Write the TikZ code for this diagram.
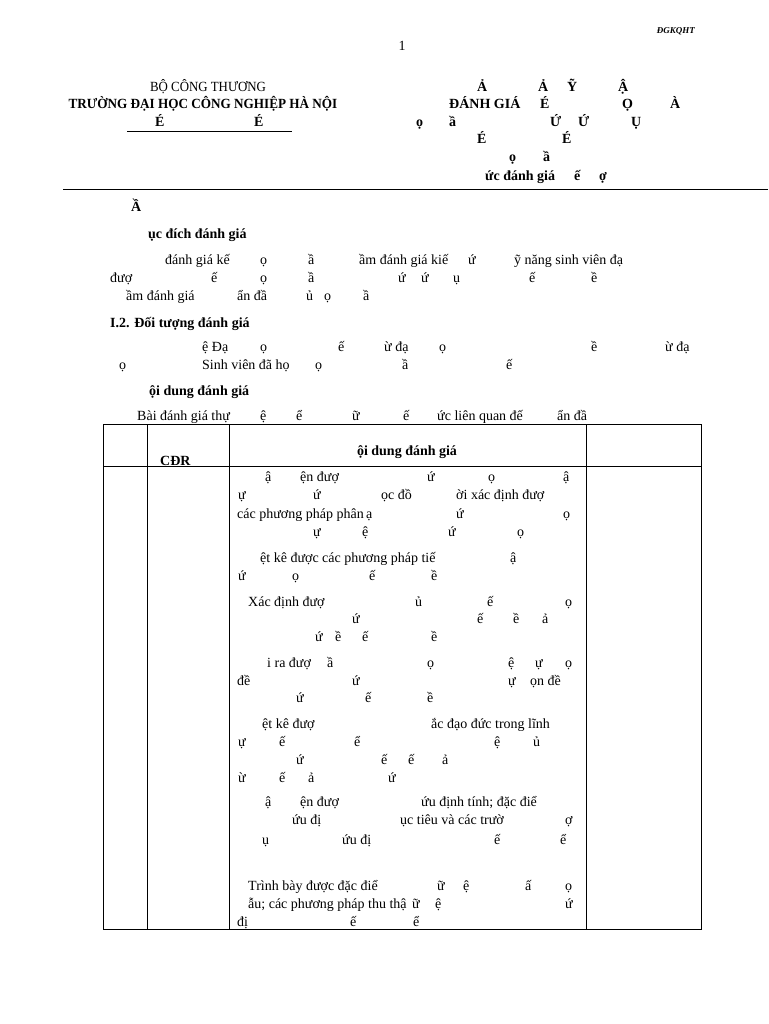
\documentclass[tikz,border=0pt]{standalone}
\usepackage{fontspec}
\setmainfont{Liberation Serif}
\newcommand\tx[3]{\node[anchor=base west,inner sep=0pt] at (#1,#2) {#3};}
\newcommand\tb[3]{\node[anchor=base west,inner sep=0pt,font=\fontsize{14}{17}\selectfont\bfseries] at (#1,#2) {#3};}
\begin{document}
\begin{tikzpicture}[x=1pt,y=-1pt,font=\fontsize{14}{17}\selectfont]
\useasboundingbox (0,0) rectangle (768,1024);
\fill[white] (0,0) rectangle (768,1024);
% page header
\node[anchor=base east,inner sep=0pt,font=\fontsize{9}{10}\selectfont\bfseries\itshape] (hd) at (695,34) {ĐGKQHT};
\node[anchor=base,inner sep=0pt] (pg) at (402,51) {1};
% left heading
\node[anchor=base,inner sep=0pt] (bo) at (208,92) {\scalebox{0.92}[1]{BỘ CÔNG THƯƠNG}};
\node[anchor=base,inner sep=0pt,font=\fontsize{14}{17}\selectfont\bfseries] (tr) at (203,109) {\scalebox{0.94}[1]{TRƯỜNG ĐẠI HỌC CÔNG NGHIỆP HÀ NỘI}};
\tb{155}{127}{É}\tb{254}{127}{É}
\coordinate (u1) at (127,131); \coordinate (u2) at (292,131);
\draw[line width=0.6pt] (u1) -- (u2);
% right heading
\tb{477}{92}{Ả}\tb{538}{92}{Ả}\tb{567}{92}{Ỹ}\tb{618}{92}{Ậ}
\tb{449}{109}{ĐÁNH GIÁ}\tb{540}{109}{É}\tb{622}{109}{Ọ}\tb{670}{109}{À}
\tb{416}{127}{ọ}\tb{449}{127}{ầ}\tb{550}{127}{Ứ}\tb{578}{127}{Ứ}\tb{631}{127}{Ụ}
\tb{477}{144}{É}\tb{562}{144}{É}
\tb{509}{162}{ọ}\tb{543}{162}{ầ}
\tb{485}{181}{ức đánh giá}\tb{574}{181}{ế}\tb{599}{181}{ợ}
\coordinate (r1) at (63,189); \coordinate (r2) at (768,189);
\draw[line width=0.8pt] (r1) -- (r2);
% section I
\tb{131}{212}{Ầ}
\tb{148}{238}{ục đích đánh giá}
\tx{165}{264}{đánh giá kế}\tx{260}{264}{ọ}\tx{308}{264}{ầ}\tx{359}{264}{ầm đánh giá kiế}\tx{468}{264}{ứ}\tx{514}{264}{ỹ năng sinh viên đạ}
\tx{110}{282}{đượ}\tx{211}{282}{ế}\tx{260}{282}{ọ}\tx{308}{282}{ầ}\tx{398}{282}{ứ}\tx{421}{282}{ứ}\tx{453}{282}{ụ}\tx{529}{282}{ế}\tx{591}{282}{ề}
\tx{126}{300}{ầm đánh giá}\tx{237}{300}{ẩn đầ}\tx{306}{300}{ủ}\tx{324}{300}{ọ}\tx{363}{300}{ầ}
\tb{110}{327}{I.2. Đối tượng đánh giá}
\tx{202}{351}{ệ Đạ}\tx{260}{351}{ọ}\tx{338}{351}{ế}\tx{384}{351}{ừ đạ}\tx{439}{351}{ọ}\tx{591}{351}{ề}\tx{665}{351}{ừ đạ}
\tx{119}{369}{ọ}\tx{202}{369}{Sinh viên đã họ}\tx{315}{369}{ọ}\tx{402}{369}{ầ}\tx{506}{369}{ế}
\tb{149}{395}{ội dung đánh giá}
\tx{137}{420}{Bài đánh giá thự}\tx{260}{420}{ệ}\tx{296}{420}{ể}\tx{352}{420}{ữ}\tx{403}{420}{ế}\tx{437}{420}{ức liên quan đế}\tx{557}{420}{ẩn đầ}
% table
\coordinate (t1) at (103,424); \coordinate (t2) at (701,929);
\draw[line width=0.8pt] (t1) rectangle (t2);
\coordinate (h1) at (103,466); \coordinate (h2) at (701,466);
\draw[line width=0.8pt] (h1) -- (h2);
\foreach \c in {147,229,586}{\draw[line width=0.8pt] (\c,424) -- (\c,929);}
\tb{160}{465}{CĐR}
\node[anchor=base,inner sep=0pt,font=\fontsize{14}{17}\selectfont\bfseries] (hc) at (407,455) {ội dung đánh giá};
% cell text
\tx{265}{481}{ậ}\tx{300}{481}{ện đượ}\tx{427}{481}{ứ}\tx{488}{481}{ọ}\tx{563}{481}{ậ}
\tx{238}{499}{ự}\tx{313}{499}{ứ}\tx{381}{499}{ọc đồ}\tx{456}{499}{ời xác định đượ}
\tx{237}{518}{các phương pháp phân}\tx{366}{518}{ạ}\tx{456}{518}{ứ}\tx{563}{518}{ọ}
\tx{313}{536}{ự}\tx{362}{536}{ệ}\tx{448}{536}{ứ}\tx{517}{536}{ọ}
\tx{260}{562}{ệt kê được các phương pháp tiế}\tx{510}{562}{ậ}
\tx{238}{580}{ứ}\tx{292}{580}{ọ}\tx{369}{580}{ế}\tx{431}{580}{ề}
\tx{248}{606}{Xác định đượ}\tx{415}{606}{ủ}\tx{487}{606}{ế}\tx{565}{606}{ọ}
\tx{352}{623}{ứ}\tx{477}{623}{ế}\tx{513}{623}{ề}\tx{542}{623}{ả}
\tx{315}{641}{ứ}\tx{335}{641}{ề}\tx{362}{641}{ế}\tx{431}{641}{ề}
\tx{267}{667}{i ra đượ}\tx{327}{667}{ầ}\tx{427}{667}{ọ}\tx{508}{667}{ệ}\tx{535}{667}{ự}\tx{565}{667}{ọ}
\tx{237}{685}{đề}\tx{352}{685}{ứ}\tx{508}{685}{ự}\tx{530}{685}{ọn đề}
\tx{296}{702}{ứ}\tx{365}{702}{ế}\tx{427}{702}{ề}
\tx{262}{728}{ệt kê đượ}\tx{431}{728}{ắc đạo đức trong lĩnh}
\tx{238}{746}{ự}\tx{279}{746}{ế}\tx{354}{746}{ể}\tx{494}{746}{ệ}\tx{533}{746}{ủ}
\tx{296}{764}{ứ}\tx{381}{764}{ế}\tx{408}{764}{ế}\tx{442}{764}{ả}
\tx{238}{782}{ừ}\tx{279}{782}{ế}\tx{308}{782}{ả}\tx{388}{782}{ứ}
\tx{265}{806}{ậ}\tx{300}{806}{ện đượ}\tx{421}{806}{ứu định tính; đặc điể}
\tx{292}{824}{ứu đị}\tx{400}{824}{ục tiêu và các trườ}\tx{565}{824}{ợ}
\tx{262}{844}{ụ}\tx{342}{844}{ứu đị}\tx{494}{844}{ế}\tx{560}{844}{ể}
\tx{248}{890}{Trình bày được đặc điể}\tx{437}{890}{ữ}\tx{463}{890}{ệ}\tx{525}{890}{ấ}\tx{565}{890}{ọ}
\tx{248}{908}{ẫu; các phương pháp thu thậ}\tx{412}{908}{ữ}\tx{435}{908}{ệ}\tx{565}{908}{ứ}
\tx{237}{926}{đị}\tx{350}{926}{ế}\tx{413}{926}{ể}
\end{tikzpicture}
\end{document}
